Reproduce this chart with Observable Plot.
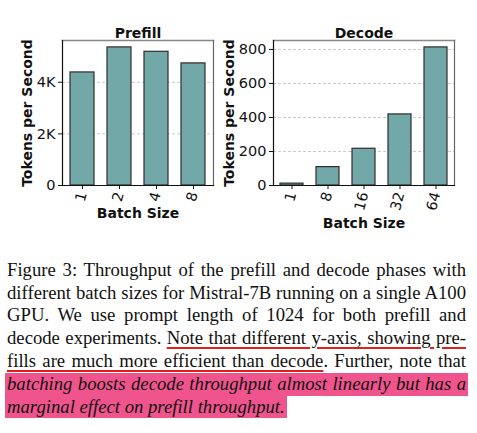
<!DOCTYPE html>
<html>
<head>
<meta charset="utf-8">
<script src="https://cdn.jsdelivr.net/npm/d3@7"></script>
<script src="https://cdn.jsdelivr.net/npm/@observablehq/plot@0.6"></script>
<style>
  html, body { margin: 0; padding: 0; background: #fff; }
  #wrap { position: relative; width: 477px; height: 433px; overflow: hidden; }
  .panel { position: absolute; top: 0; }
  #caption { position: absolute; left: 7px; top: 259px; width: 459px;
    font-family: "Liberation Serif", "Times New Roman", serif; font-size: 18.7px;
    line-height: 22.7px; color: #111; }
  #caption .ln { text-align: justify; text-align-last: justify; white-space: nowrap; }
  #caption .ln.last { text-align-last: left; }
  .ul { text-decoration: underline; text-decoration-color: #e0201c; text-decoration-thickness: 1.6px; text-underline-offset: 3px; }
  .hl { background: #f0548c; font-style: italic; padding: 0 2px 1px 2px; margin-left: -2px; }
</style>
</head>
<body>
<div id="wrap">
  <div id="prefill" class="panel" style="left:0px"></div>
  <div id="decode" class="panel" style="left:210px"></div>
  <div id="caption">
    <div class="ln">Figure 3: Throughput of the prefill and decode phases with</div>
    <div class="ln">different batch sizes for Mistral-7B running on a single A100</div>
    <div class="ln">GPU. We use prompt length of 1024 for both prefill and</div>
    <div class="ln">decode experiments. <span class="ul">Note that different y-axis, showing pre-</span></div>
    <div class="ln"><span class="ul">fills are much more efficient than decode</span>. Further, note that</div>
    <div class="ln"><span class="hl" style="display:block;margin-right:-2px">batching boosts decode throughput almost linearly but has a</span></div>
    <div class="ln last"><span class="hl">marginal effect on prefill throughput.</span></div>
  </div>
</div>
<script>
const prefillBatch = ["1", "2", "4", "8"];
const prefillTokens = [4380, 5350, 5180, 4730];
const prefillTicks = [0, 2000, 4000];
const prefillTickLabels = ["0", "2K", "4K"];

const decodeBatch = ["1", "8", "16", "32", "64"];
const decodeTokens = [11, 108, 216, 418, 812];
const decodeTicks = [0, 200, 400, 600, 800];

const barFill = "#72a8a8";
const barStroke = "#2e2e2e";
const font = "DejaVu Sans, sans-serif";

function panel({title, cats, vals, ticks, tickFormat, width, marginLeft, marginRight, labelOffset, xLabelDy}) {
  const data = cats.map((c, i) => ({batch: c, tokens: vals[i]}));
  const ymax = d3.max(vals) * 1.05;
  return Plot.plot({
    width, height: 232,
    marginLeft, marginRight, marginTop: 40, marginBottom: 47,
    style: {fontFamily: font, fontSize: "14px", color: "#111", background: "transparent", overflow: "visible"},
    x: {domain: cats, paddingInner: 0.35, paddingOuter: 0.175, label: null},
    y: {domain: [0, ymax], label: null},
    marks: [
      Plot.gridY(ticks, {stroke: "#bbb", strokeOpacity: 1, strokeDasharray: "3,2", strokeWidth: 0.8}),
      Plot.barY(data, {x: "batch", y: "tokens", fill: barFill, stroke: barStroke, strokeWidth: 1.2}),
      Plot.frame({anchor: "top", stroke: "#888", strokeWidth: 1.5}),
      Plot.frame({anchor: "right", stroke: "#666", strokeWidth: 1.2}),
      Plot.frame({anchor: "left", stroke: "#111", strokeWidth: 1.2}),
      Plot.frame({anchor: "bottom", stroke: "#111", strokeWidth: 1.2}),
      Plot.axisY({ticks, tickFormat, tickSize: 4, tickPadding: 3, fontSize: 14.5,
        label: "Tokens per Second", labelAnchor: "center", labelArrow: "none", labelOffset}),
      Plot.axisX({tickSize: 4, tickRotate: -75, tickPadding: 3, fontSize: 14.5, label: null}),
      Plot.text([title], {frameAnchor: "top", dy: -12, text: d => d, fontWeight: "bold", fontSize: 14}),
      Plot.text(["Batch Size"], {frameAnchor: "bottom", dy: xLabelDy, text: d => d, fontWeight: "bold", fontSize: 14})
    ]
  });
}

const p1 = panel({title: "Prefill", cats: prefillBatch, vals: prefillTokens, ticks: prefillTicks,
  tickFormat: (d) => prefillTickLabels[prefillTicks.indexOf(d)], width: 220, marginLeft: 62, marginRight: 7,
  labelOffset: 40, xLabelDy: 32});
const p2 = panel({title: "Decode", cats: decodeBatch, vals: decodeTokens, ticks: decodeTicks,
  tickFormat: (d) => String(d), width: 267, marginLeft: 63, marginRight: 23,
  labelOffset: 49, xLabelDy: 42});
document.getElementById("prefill").appendChild(p1);
document.getElementById("decode").appendChild(p2);
for (const svg of [p1, p2]) {
  svg.querySelectorAll("[aria-label='y-axis label']").forEach(el => {
    el.setAttribute("font-weight", "bold");
    el.setAttribute("font-size", "14");
  });
}
</script>
</body>
</html>
